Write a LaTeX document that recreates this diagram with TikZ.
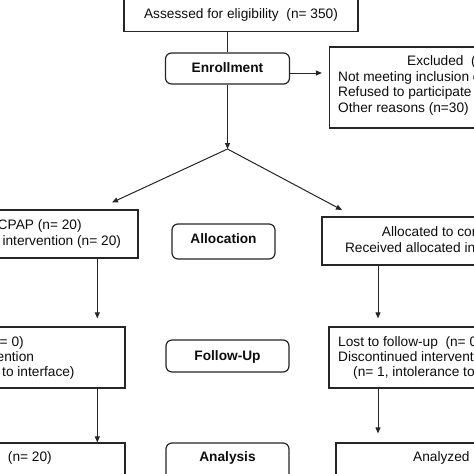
\documentclass[tikz,border=0pt]{standalone}
\usepackage{fontspec}
\setmainfont{Liberation Sans}
\usetikzlibrary{arrows.meta}
\begin{document}
\begin{tikzpicture}[x=1pt,y=-1pt,
  box/.style={draw=black!85, line width=1.2pt, inner sep=0pt, fill=white},
  rbox/.style={box, rounded corners=6pt},
  txt/.style={inner sep=0pt, font=\fontsize{13.7}{16}\selectfont, text=black!95},
  btxt/.style={txt, font=\fontsize{13.7}{16}\selectfont\bfseries},
  line/.style={draw=black!85, line width=1pt},
  arr/.style={line, -{Triangle[length=6pt,width=5pt]}}
]
\useasboundingbox (0,0) rectangle (474,474);
\fill[white] (0,0) rectangle (474,474);
\clip (0,0) rectangle (474,474);

% boxes
\node[box, minimum width=234pt, minimum height=51.5pt] (top) at (241,5.75) {};
\node[rbox, minimum width=124pt, minimum height=31pt] (enroll) at (227.5,68.5) {};
\node[box, minimum width=290.5pt, minimum height=81pt] (excl) at (474.75,87.5) {};
\node[box, minimum width=272pt, minimum height=48pt] (leftalloc) at (2,234) {};
\node[rbox, minimum width=103pt, minimum height=35pt] (alloc) at (223.5,241.5) {};
\node[box, minimum width=284pt, minimum height=48pt] (rightalloc) at (464,241) {};
\node[box, minimum width=254pt, minimum height=61pt] (leftfu) at (-2,357.5) {};
\node[rbox, minimum width=123pt, minimum height=32pt] (fu) at (227.5,356) {};
\node[box, minimum width=254pt, minimum height=61pt] (rightfu) at (456,357.5) {};
\node[box, minimum width=250pt, minimum height=47pt] (leftan) at (0,466.5) {};
\node[rbox, minimum width=123pt, minimum height=47pt] (an) at (227.5,466.5) {};
\node[box, minimum width=256pt, minimum height=47pt] (rightan) at (464,466.5) {};

% texts
\node[txt, anchor=base] (ttop) at (241,18.5) {Assessed for eligibility \ (n= 350)};
\node[btxt, anchor=base] (tenr) at (227.5,72.5) {Enrollment};
\node[txt, anchor=base west] (tex1) at (407,65.5) {Excluded \ (n= 310)};
\node[txt, anchor=base west] (tex2) at (338,81) {Not meeting inclusion criteria (n= 250)};
\node[txt, anchor=base west] (tex3) at (338,96.5) {Refused to participate (n= 30)};
\node[txt, anchor=base west] (tex4) at (338,112) {Other reasons (n=30)};

\node[txt, anchor=base] (tla1) at (2,229) {Allocated to CPAP (n= 20)};
\node[txt, anchor=base] (tla2) at (2,245) {Received allocated intervention (n= 20)};
\node[btxt, anchor=base] (tal) at (223.5,243.3) {Allocation};
\node[txt, anchor=base] (tra1) at (464,236) {Allocated to control (n= 20)};
\node[txt, anchor=base] (tra2) at (464,252) {Received allocated intervention (n= 20)};

\node[txt, anchor=base west] (tlf1) at (-120,346) {Lost to follow-up \ (n= 0)};
\node[txt, anchor=base west] (tlf2) at (-120,361) {Discontinued intervention};
\node[txt, anchor=base west] (tlf3) at (-108,376.5) {(n= 1, intolerance to interface)};
\node[btxt, anchor=base] (tfu) at (227.5,360.7) {Follow-Up};
\node[txt, anchor=base west] (trf1) at (338,346) {Lost to follow-up \ (n= 0)};
\node[txt, anchor=base west] (trf2) at (338,361) {Discontinued intervention};
\node[txt, anchor=base west] (trf3) at (353,376.5) {(n= 1, intolerance to interface)};

\node[txt, anchor=base east] (tlan) at (52,461.7) {Analyzed \ (n= 20)};
\node[btxt, anchor=base] (tan) at (227.5,461.7) {Analysis};
\node[txt, anchor=base west] (tran) at (413,461.7) {Analyzed \ (n= 20)};

% connectors
\coordinate (apex) at (227.5,149);
\coordinate (lend) at (112,202.5);
\coordinate (rend) at (342,210);
\coordinate (lcol) at (97.3,0);
\coordinate (rcol) at (378,0);

\draw[line] (top.south -| enroll.north) -- (enroll.north);
\draw[arr] (enroll.south) -- (apex);
\draw[arr] (apex) -- (lend);
\draw[arr] (apex) -- (rend);
\draw[arr, shorten >=7pt] ([yshift=-4.5pt]enroll.east) -- ([yshift=-4.5pt]enroll.east -| excl.west);
\draw[arr, shorten >=8pt] (leftalloc.south -| lcol) -- (leftfu.north -| lcol);
\draw[arr, shorten >=8pt] (rightalloc.south -| rcol) -- (rightfu.north -| rcol);
\draw[arr] (leftfu.south -| lcol) -- (leftan.north -| lcol);
\draw[arr, shorten >=9pt] (rightfu.south -| rcol) -- (rightan.north -| rcol);
\end{tikzpicture}
\end{document}
